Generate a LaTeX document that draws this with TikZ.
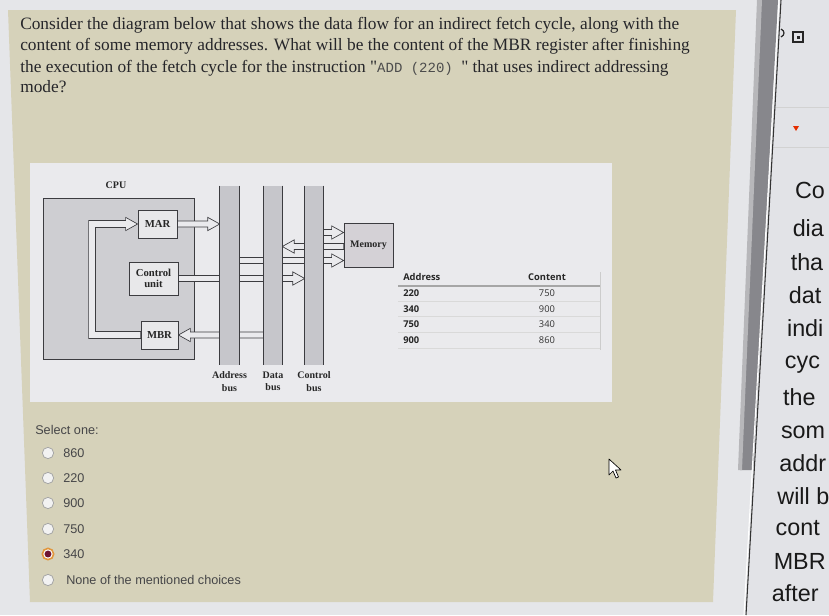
\documentclass[tikz,border=0pt]{standalone}
\usepackage{fontspec}
\setmainfont{Liberation Serif}
\setsansfont{Liberation Sans}
\setmonofont{Liberation Mono}
\newfontfamily\tabfont{Open Sans}
\newfontfamily\plainserif{Liberation Serif}[Ligatures=TeXOff]
\usetikzlibrary{calc}
\pgfdeclarelayer{base}
\pgfdeclarelayer{bg}
\pgfdeclarelayer{mid}
\pgfsetlayers{base,bg,mid,main}

\definecolor{pagebg}{RGB}{229,230,233}
\definecolor{beige}{RGB}{214,210,186}
\definecolor{diagbg}{RGB}{234,234,237}
\definecolor{cpufill}{RGB}{206,206,210}
\definecolor{boxfill}{RGB}{232,232,234}
\definecolor{busfill}{RGB}{198,198,203}
\definecolor{memfill}{RGB}{212,209,214}
\definecolor{linecol}{RGB}{60,60,64}
\definecolor{panelbg}{RGB}{226,227,231}
\definecolor{barcol}{RGB}{135,135,140}
\definecolor{textcol}{RGB}{38,38,42}
\definecolor{opttext}{RGB}{70,70,72}
\definecolor{radiosel}{RGB}{110,20,50}
\definecolor{radioring}{RGB}{225,150,60}

\newcommand\hollowarrow[2]{%
  \draw[fatarrow] let \p1=(#1), \p2=(#2), \n1={sign(\x2-\x1)} in
    (\x1,\y1+2.25pt) -- (\x2-\n1*9pt,\y1+2.25pt) -- (\x2-\n1*9pt,\y1+5pt)
    -- (\x2,\y1) -- (\x2-\n1*9pt,\y1-5pt) -- (\x2-\n1*9pt,\y1-2.25pt)
    -- (\x1,\y1-2.25pt) -- cycle;}

\begin{document}
\begin{tikzpicture}[x=0.75pt,y=-0.75pt,
  regbox/.style={draw=linecol, fill=boxfill, line width=0.6pt, inner sep=0pt,
    font=\bfseries\fontsize{8}{8.5}\selectfont, align=center, text=black!85},
  cpubox/.style={draw=linecol, fill=cpufill, line width=0.6pt, inner sep=0pt,
    minimum width=113.25pt, minimum height=120.75pt},
  membox/.style={draw=linecol, fill=memfill, line width=0.6pt, inner sep=0pt,
    font=\bfseries\fontsize{7.5}{8}\selectfont, text=black!85},
  bus/.style={fill=busfill, inner sep=0pt, minimum height=134.25pt},
  busline/.style={draw=linecol, line width=0.7pt},
  buslbl/.style={font=\bfseries\fontsize{7.5}{9.5}\selectfont, align=center, inner sep=0pt, text=black!85},
  fatarrow/.style={draw=linecol, fill=diagbg, line width=0.5pt, line join=miter},
  qline/.style={anchor=base west, inner sep=0pt, text=textcol, font=\fontsize{13}{15}\selectfont},
  tabhd/.style={inner sep=0pt, font=\tabfont\bfseries\fontsize{7}{8}\selectfont, text=black!85},
  tabval/.style={inner sep=0pt, font=\tabfont\fontsize{7}{8}\selectfont, text=black!80},
  radio/.style={circle, draw=gray!70, fill=white!90!gray, line width=0.6pt, minimum size=8.5pt, inner sep=0pt},
  opt/.style={anchor=west, inner sep=0pt, text=opttext, font=\sffamily\fontsize{9.5}{11}\selectfont},
  sidetxt/.style={anchor=west, inner sep=0pt, text=black!90, font=\sffamily\fontsize{17.5}{20}\selectfont}
]
\useasboundingbox (0,0) rectangle (829,615);
\begin{pgfonlayer}{base}
\fill[pagebg] (0,0) rectangle (829,615);
\fill[beige] (8,10) -- (736,10) -- (713,602) -- (30,602) -- cycle;
\end{pgfonlayer}

% question
\node[qline] (q1) at (20,29) {Consider the diagram below that shows the data flow for an indirect fetch cycle, along with the};
\node[qline] (q2) at (20,50) {content of some memory addresses. What will be the content of the MBR register after finishing};
\node[qline] (q3) at (20,72) {the execution of the fetch cycle for the instruction {\plainserif"}{\ttfamily\fontsize{10.5}{12}\selectfont\color{black!70}ADD (220) }{\plainserif"} that uses indirect addressing};
\node[qline] (q4) at (20,92) {mode?};

% diagram background
\begin{pgfonlayer}{bg}
\fill[diagbg] (30,163) rectangle (612,402);
\node[cpubox] (cpu) at (118.5,278.5) {};
\end{pgfonlayer}
\node[buslbl] (cpulbl) at (116,185) {CPU};

\node[bus, minimum width=14.25pt] (ab) at (229.5,275.5) {};
\node[bus, minimum width=13.5pt] (db) at (273,275.5) {};
\node[bus, minimum width=13.5pt] (cb) at (314,275.5) {};
\foreach \b in {ab,db,cb}{
  \draw[busline] (\b.north west) -- (\b.south west);
  \draw[busline] (\b.north east) -- (\b.south east);
}
\node[buslbl, anchor=north] (abl) at ($(ab.south)+(0,6)$) {Address\\bus};
\node[buslbl, anchor=north] (dbl) at ($(db.south)+(0,6)$) {Data\\bus};
\node[buslbl, anchor=north] (cbl) at ($(cb.south)+(0,6)$) {Control\\bus};

\node[regbox, minimum width=29.25pt, minimum height=21pt] (mar) at (157.5,224) {MAR};
\node[regbox, minimum width=36.75pt, minimum height=24.75pt] (cu) at (153.5,278.5) {Control\\unit};
\node[regbox, minimum width=27.75pt, minimum height=21pt] (mbr) at (159.5,335) {MBR};
\node[membox, minimum width=36.75pt, minimum height=33pt] (mem) at (368.5,245) {Memory};

\coordinate (mtop) at ($(mem.west)+(0,-12.5)$);
\coordinate (mmid) at ($(mem.west)+(0,1.5)$);
\coordinate (mbot) at ($(mem.west)+(0,15.5)$);
\coordinate (loopx) at ($(cpu.west)+(49.5,0)$);

\begin{pgfonlayer}{mid}
\hollowarrow{mar.east}{mar.east -| ab.west}
\hollowarrow{cu.east}{cu.east -| cb.west}
\hollowarrow{mtop -| cb.east}{mtop}
\hollowarrow{mmid}{mmid -| db.east}
\hollowarrow{mbot -| ab.east}{mbot}
\hollowarrow{mbr.east -| db.west}{mbr.east}
\draw[fatarrow] let \p1=(mbr.west), \p2=(mar.west), \p3=(loopx) in
  (\x1,\y1-2.6pt) -- (\x3-2.6pt,\y1-2.6pt) -- (\x3-2.6pt,\y2+2.6pt)
  -- (\x2-9pt,\y2+2.6pt) -- (\x2-9pt,\y2+5pt) -- (\x2,\y2) -- (\x2-9pt,\y2-5pt)
  -- (\x2-9pt,\y2-2.6pt) -- (\x3+2.6pt,\y2-2.6pt) -- (\x3+2.6pt,\y1+2.6pt)
  -- (\x1,\y1+2.6pt) -- cycle;
\end{pgfonlayer}

% table
\draw[gray!40, line width=0.4pt] (600,272) -- (600,350);
\draw[gray!70, line width=0.8pt] (398,286) -- (600,286);
\foreach \yy in {301,316.5,332,348}{\draw[gray!30, line width=0.4pt] (398,\yy) -- (600,\yy);}
\node[tabhd, anchor=west] (th1) at (403,277) {Address};
\node[tabhd] (th2) at (547,277) {Content};
\node[tabhd, anchor=west] (a1) at (403,293) {220};
\node[tabhd, anchor=west] (a2) at (403,309) {340};
\node[tabhd, anchor=west] (a3) at (403,324) {750};
\node[tabhd, anchor=west] (a4) at (403,340) {900};
\node[tabval] (c1) at (547,293) {750};
\node[tabval] (c2) at (547,309) {900};
\node[tabval] (c3) at (547,324) {340};
\node[tabval] (c4) at (547,340) {860};

% choices
\node[opt] (sel) at (35,430) {Select one:};
\node[radio] (r1) at (48,453) {};
\node[radio] (r2) at (48,478) {};
\node[radio] (r3) at (48,503) {};
\node[radio] (r4) at (48,529) {};
\node[radio, draw=radioring, line width=1.2pt, fill=white] (r5) at (48,554) {};
\fill[radiosel] (r5.center) circle[radius=2.6pt];
\node[radio] (r6) at (48,580) {};
\node[opt] (o1) at (63,453) {860};
\node[opt] (o2) at (63,478) {220};
\node[opt] (o3) at (63,503) {900};
\node[opt] (o4) at (63,529) {750};
\node[opt] (o5) at (63,554) {340};
\node[opt] (o6) at (66,580) {None of the mentioned choices};

% mouse pointer
\draw[fill=white, draw=black, line width=0.5pt, line join=round]
  (609,459) -- ++(0,16) -- ++(4,-4) -- ++(3,7) -- ++(2.5,-1) -- ++(-3,-7) -- ++(5.5,0) -- cycle;

% scrollbar and side panel
\fill[barcol] (760,0) -- (778,0) -- (753,470) -- (740,470) -- cycle;
\fill[barcol!60!white] (757,0) -- (762,0) -- (742,470) -- (738,470) -- cycle;
\begin{scope}
\clip (781,0) -- (829,0) -- (829,615) -- (746,615) -- cycle;
\fill[panelbg] (700,0) rectangle (829,615);
\draw[gray!35, line width=0.6pt] (740,107) -- (829,107);
\draw[gray!35, line width=0.6pt] (740,147) -- (829,147);
\node[sidetxt] (s1) at (794.8,190) {Co};
\node[sidetxt] (s2) at (792.5,228) {dia};
\node[sidetxt] (s3) at (790.5,262) {tha};
\node[sidetxt] (s4) at (788.7,295) {dat};
\node[sidetxt] (s5) at (786.8,328) {indi};
\node[sidetxt] (s6) at (784.7,365) {cyc};
\node[sidetxt] (s7) at (782.9,397) {the};
\node[sidetxt] (s8) at (780.8,432) {som};
\node[sidetxt] (s9) at (779.1,463) {addr};
\node[sidetxt] (s10) at (777.2,496) {will b};
\node[sidetxt] (s11) at (775.4,528) {cont};
\node[sidetxt] (s12) at (773.5,561) {MBR};
\node[sidetxt] (s13) at (771.7,593) {after};
\end{scope}
\draw[white, line width=0.8pt] (779,0) -- (744,615);
\draw[black!80, line width=0.8pt] (781,0) -- (746,615);

% icons
\draw[black!85, line width=0.9pt] (781,29) .. controls (785,31) and (785,35) .. (781,37);
\draw[black!85, line width=0.9pt] (793,32) rectangle (803,42);
\fill[black!85] (796.5,35.5) rectangle (799.5,38.5);
\fill[red!60!orange!90!black] (793,126) -- (799,126) -- (796,131) -- cycle;
\end{tikzpicture}
\end{document}
